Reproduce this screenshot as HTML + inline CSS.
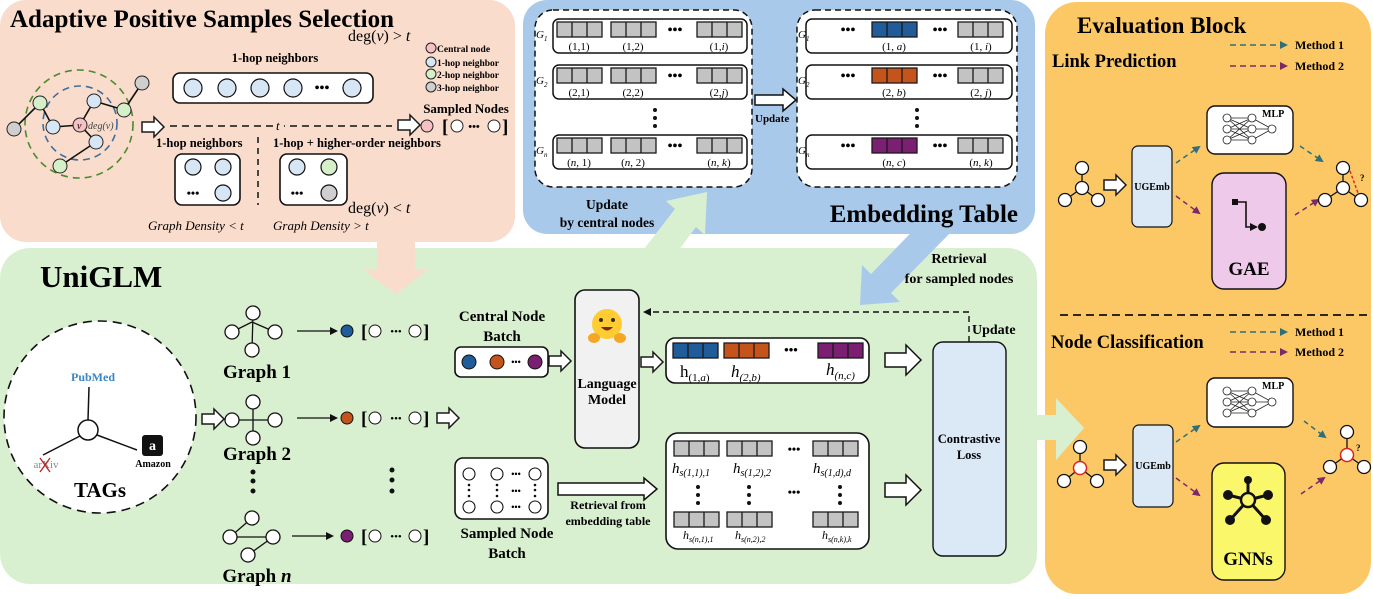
<!DOCTYPE html>
<html><head><meta charset="utf-8"><style>
html,body{margin:0;padding:0;background:#fff;}
svg{display:block;}
text{font-family:"Liberation Serif",serif;}
.b{font-weight:bold;}
.i{font-style:italic;}
</style></head><body>
<svg width="1373" height="599" viewBox="0 0 1373 599" xmlns="http://www.w3.org/2000/svg">
<defs>
<g id="cg"><rect x="0" y="0" width="45" height="15" fill="#c3c3c3" stroke="#1a1a1a" stroke-width="1.3"/><line x1="15" y1="0" x2="15" y2="15" stroke="#1a1a1a" stroke-width="1.3"/><line x1="30" y1="0" x2="30" y2="15" stroke="#1a1a1a" stroke-width="1.3"/></g>
<g id="cb"><rect x="0" y="0" width="45" height="15" fill="#1f5c99" stroke="#1a1a1a" stroke-width="1.3"/><line x1="15" y1="0" x2="15" y2="15" stroke="#1a1a1a" stroke-width="1.3"/><line x1="30" y1="0" x2="30" y2="15" stroke="#1a1a1a" stroke-width="1.3"/></g>
<g id="co"><rect x="0" y="0" width="45" height="15" fill="#c5541c" stroke="#1a1a1a" stroke-width="1.3"/><line x1="15" y1="0" x2="15" y2="15" stroke="#1a1a1a" stroke-width="1.3"/><line x1="30" y1="0" x2="30" y2="15" stroke="#1a1a1a" stroke-width="1.3"/></g>
<g id="cp"><rect x="0" y="0" width="45" height="15" fill="#7b1f72" stroke="#1a1a1a" stroke-width="1.3"/><line x1="15" y1="0" x2="15" y2="15" stroke="#1a1a1a" stroke-width="1.3"/><line x1="30" y1="0" x2="30" y2="15" stroke="#1a1a1a" stroke-width="1.3"/></g>
<g id="ha"><polygon points="0,-5 12,-5 12,-10 22,0 12,10 12,5 0,5" fill="#fff" stroke="#1a1a1a" stroke-width="1.5"/></g>
<g id="mlp" stroke="#222" stroke-width="0.8" fill="#fff">
<line x1="0" y1="0" x2="25" y2="0"/><line x1="0" y1="0" x2="25" y2="11"/><line x1="0" y1="0" x2="25" y2="22"/>
<line x1="0" y1="11" x2="25" y2="0"/><line x1="0" y1="11" x2="25" y2="11"/><line x1="0" y1="11" x2="25" y2="22"/>
<line x1="0" y1="22" x2="25" y2="0"/><line x1="0" y1="22" x2="25" y2="11"/><line x1="0" y1="22" x2="25" y2="22"/>
<line x1="25" y1="0" x2="45" y2="11"/><line x1="25" y1="11" x2="45" y2="11"/><line x1="25" y1="22" x2="45" y2="11"/>
<circle cx="0" cy="0" r="4"/><circle cx="0" cy="11" r="4"/><circle cx="0" cy="22" r="4"/>
<circle cx="25" cy="0" r="4"/><circle cx="25" cy="11" r="4"/><circle cx="25" cy="22" r="4"/>
<circle cx="45" cy="11" r="4"/></g>
<marker id="mt" markerWidth="8" markerHeight="8" refX="6" refY="4" orient="auto" markerUnits="userSpaceOnUse"><path d="M0,0 L8,4 L0,8 z" fill="#2f6f7a"/></marker>
<marker id="mp" markerWidth="8" markerHeight="8" refX="6" refY="4" orient="auto" markerUnits="userSpaceOnUse"><path d="M0,0 L8,4 L0,8 z" fill="#7a2a6a"/></marker>
<marker id="mk" markerWidth="8" markerHeight="8" refX="6" refY="4" orient="auto" markerUnits="userSpaceOnUse"><path d="M0,0 L8,4 L0,8 z" fill="#111"/></marker>
</defs>

<rect x="0" y="248" width="1037" height="336" rx="30" fill="#d9f0d0"/>
<rect x="0" y="0" width="515" height="242" rx="26" fill="#f9dccb"/>
<rect x="523" y="0" width="512" height="234" rx="24" fill="#a9c9ea"/>
<rect x="1045" y="2" width="326" height="592" rx="32" fill="#fcc866"/>

<polygon points="377,236 415,236 415,270 428,270 396,294 363,270 377,270" fill="#f9dccb"/>
<polygon points="644,249 666,267 696,227 705,235 707,192 666,201 675,209" fill="#d9f0d0"/>
<polygon points="935,208 871,274 862,265 860,305 900,302 891,293 955,228" fill="#a9c9ea"/>
<polygon points="1030,415 1056,415 1056,398 1084,428 1056,460 1056,440 1030,440" fill="#d9f0d0"/>

<!-- Pink panel -->
<text x="10" y="27" class="b" font-size="25">Adaptive Positive Samples Selection</text>
<text x="348" y="41" font-size="16">deg(<tspan class="i">v</tspan>) &gt; <tspan class="i">t</tspan></text>
<g font-size="9.5" class="b">
<circle cx="431" cy="48" r="5" fill="#f7c1c4" stroke="#222"/><text x="437" y="52">Central node</text>
<circle cx="431" cy="62" r="5" fill="#d6e6f5" stroke="#222"/><text x="437" y="66">1-hop neighbor</text>
<circle cx="431" cy="74" r="5" fill="#d5efc9" stroke="#222"/><text x="437" y="78">2-hop neighbor</text>
<circle cx="431" cy="87" r="5" fill="#cfcfcf" stroke="#222"/><text x="437" y="91">3-hop neighbor</text>
</g>
<circle cx="79" cy="124" r="54" fill="none" stroke="#4c8a2e" stroke-width="1.6" stroke-dasharray="7,5"/>
<circle cx="80" cy="123" r="37" fill="none" stroke="#3d6f9e" stroke-width="1.6" stroke-dasharray="7,5"/>
<g stroke="#111" stroke-width="1.6">
<line x1="14" y1="129" x2="40" y2="103"/><line x1="40" y1="103" x2="53" y2="127"/><line x1="53" y1="127" x2="80" y2="125"/>
<line x1="80" y1="125" x2="94" y2="101"/><line x1="94" y1="101" x2="124" y2="110"/><line x1="124" y1="110" x2="142" y2="83"/>
<line x1="80" y1="125" x2="96" y2="142"/><line x1="96" y1="142" x2="60" y2="166"/></g>
<g stroke="#222" stroke-width="1">
<circle cx="14" cy="129" r="7" fill="#cfcfcf"/><circle cx="142" cy="83" r="7" fill="#cfcfcf"/>
<circle cx="40" cy="103" r="7" fill="#d5efc9"/><circle cx="124" cy="110" r="7" fill="#d5efc9"/><circle cx="60" cy="166" r="7" fill="#d5efc9"/>
<circle cx="53" cy="127" r="7" fill="#d6e6f5"/><circle cx="94" cy="101" r="7" fill="#d6e6f5"/><circle cx="96" cy="142" r="7" fill="#d6e6f5"/>
<circle cx="80" cy="125" r="7" fill="#f7c1c4"/></g>
<text x="77" y="129" class="i" font-size="10">v</text>
<text x="88" y="129" class="i" font-size="10" fill="#444">deg(v)</text>
<use href="#ha" x="142" y="127"/>
<text x="275" y="62" class="b" font-size="12.5" text-anchor="middle">1-hop neighbors</text>
<rect x="173" y="73" width="200" height="30" rx="7" fill="#fff" stroke="#111" stroke-width="1.6"/>
<g fill="#d6e6f5" stroke="#111" stroke-width="1.2">
<circle cx="193" cy="88" r="9"/><circle cx="227" cy="88" r="9"/><circle cx="260" cy="88" r="9"/><circle cx="293" cy="88" r="9"/><circle cx="352" cy="88" r="9"/></g>
<text x="322" y="92" class="b" font-size="14" text-anchor="middle">•••</text>
<line x1="170" y1="126" x2="392" y2="126" stroke="#111" stroke-width="1.5" stroke-dasharray="7,5"/>
<rect x="274" y="118" width="10" height="12" fill="#f9dccb"/>
<text x="276" y="130" class="i" font-size="13">t</text>
<use href="#ha" x="398" y="125"/>
<text x="466" y="113" class="b" font-size="13" text-anchor="middle">Sampled Nodes</text>
<circle cx="427" cy="126" r="6" fill="#f7c1c4" stroke="#222"/>
<text x="442" y="133" class="b" font-size="19">[</text>
<circle cx="457" cy="126" r="6" fill="#fff" stroke="#222"/>
<text x="474" y="130" class="b" font-size="11" text-anchor="middle">•••</text>
<circle cx="494" cy="126" r="6" fill="#fff" stroke="#222"/>
<text x="502" y="133" class="b" font-size="19">]</text>
<text x="156" y="147" class="b" font-size="12.5">1-hop neighbors</text>
<line x1="258" y1="137" x2="258" y2="205" stroke="#111" stroke-width="1.5" stroke-dasharray="6,5"/>
<text x="273" y="147" class="b" font-size="12.5">1-hop + higher-order neighbors</text>
<rect x="175" y="154" width="65" height="51" rx="7" fill="#fff" stroke="#111" stroke-width="1.6"/>
<g stroke="#111" stroke-width="1.2"><circle cx="193" cy="167" r="8" fill="#d6e6f5"/><circle cx="223" cy="167" r="8" fill="#d6e6f5"/><circle cx="223" cy="193" r="8" fill="#d6e6f5"/></g>
<text x="193" y="197" class="b" font-size="12" text-anchor="middle">•••</text>
<rect x="280" y="154" width="67" height="51" rx="7" fill="#fff" stroke="#111" stroke-width="1.6"/>
<g stroke="#111" stroke-width="1.2"><circle cx="297" cy="167" r="8" fill="#d6e6f5"/><circle cx="329" cy="167" r="8" fill="#d5efc9"/><circle cx="329" cy="193" r="8" fill="#cfcfcf"/></g>
<text x="297" y="197" class="b" font-size="12" text-anchor="middle">•••</text>
<text x="348" y="213" font-size="16">deg(<tspan class="i">v</tspan>) &lt; <tspan class="i">t</tspan></text>
<text x="148" y="230" class="i" font-size="13">Graph Density &lt; t</text>
<text x="273" y="230" class="i" font-size="13">Graph Density &gt; t</text>

<!-- Blue panel -->
<rect x="535" y="10" width="217" height="177" rx="18" fill="#fff" stroke="#111" stroke-width="1.5" stroke-dasharray="6,4"/>
<rect x="797" y="10" width="220" height="177" rx="18" fill="#fff" stroke="#111" stroke-width="1.5" stroke-dasharray="6,4"/>
<g font-size="11" class="i">
<text x="536" y="38">G<tspan font-size="7" dy="3">1</tspan></text><text x="536" y="84">G<tspan font-size="7" dy="3">2</tspan></text><text x="536" y="154">G<tspan font-size="7" dy="3">n</tspan></text>
<text x="798" y="38">G<tspan font-size="7" dy="3">1</tspan></text><text x="798" y="84">G<tspan font-size="7" dy="3">2</tspan></text><text x="798" y="154">G<tspan font-size="7" dy="3">n</tspan></text>
</g>
<g fill="none" stroke="#111" stroke-width="1.5">
<rect x="553" y="19" width="194" height="34" rx="6"/><rect x="553" y="65" width="194" height="34" rx="6"/><rect x="553" y="135" width="194" height="34" rx="6"/>
<rect x="806" y="19" width="206" height="34" rx="6"/><rect x="806" y="65" width="206" height="34" rx="6"/><rect x="806" y="135" width="206" height="34" rx="6"/>
</g>
<use href="#cg" x="557" y="22"/><use href="#cg" x="611" y="22"/><use href="#cg" x="697" y="22"/>
<use href="#cg" x="557" y="68"/><use href="#cg" x="611" y="68"/><use href="#cg" x="697" y="68"/>
<use href="#cg" x="557" y="138"/><use href="#cg" x="611" y="138"/><use href="#cg" x="697" y="138"/>
<g class="b" font-size="14" text-anchor="middle"><text x="675" y="34">•••</text><text x="675" y="80">•••</text><text x="675" y="150">•••</text>
<text x="848" y="34">•••</text><text x="848" y="80">•••</text><text x="848" y="150">•••</text>
<text x="940" y="34">•••</text><text x="940" y="80">•••</text><text x="940" y="150">•••</text></g>
<g font-size="11" text-anchor="middle">
<text x="579" y="50">(1,1)</text><text x="633" y="50">(1,2)</text><text x="719" y="50">(1,<tspan class="i">i</tspan>)</text>
<text x="579" y="96">(2,1)</text><text x="633" y="96">(2,2)</text><text x="719" y="96">(2,<tspan class="i">j</tspan>)</text>
<text x="579" y="166">(<tspan class="i">n</tspan>, 1)</text><text x="633" y="166">(<tspan class="i">n</tspan>, 2)</text><text x="719" y="166">(<tspan class="i">n</tspan>, <tspan class="i">k</tspan>)</text>
<text x="894" y="50">(1, <tspan class="i">a</tspan>)</text><text x="981" y="50">(1, <tspan class="i">i</tspan>)</text>
<text x="894" y="96">(2, <tspan class="i">b</tspan>)</text><text x="981" y="96">(2, <tspan class="i">j</tspan>)</text>
<text x="894" y="166">(<tspan class="i">n</tspan>, <tspan class="i">c</tspan>)</text><text x="981" y="166">(<tspan class="i">n</tspan>, <tspan class="i">k</tspan>)</text>
</g>
<use href="#cb" x="872" y="22"/><use href="#cg" x="958" y="22"/>
<use href="#co" x="872" y="68"/><use href="#cg" x="958" y="68"/>
<use href="#cp" x="872" y="138"/><use href="#cg" x="958" y="138"/>
<g fill="#111"><circle cx="655" cy="110" r="2"/><circle cx="655" cy="118" r="2"/><circle cx="655" cy="126" r="2"/>
<circle cx="917" cy="110" r="2"/><circle cx="917" cy="118" r="2"/><circle cx="917" cy="126" r="2"/></g>
<polygon points="755,95 783,95 783,89 796,100 783,111 783,105 755,105" fill="#fff" stroke="#111" stroke-width="1.5"/>
<text x="755" y="122" class="b" font-size="11">Update</text>
<text x="607" y="209" class="b" font-size="13.5" text-anchor="middle">Update</text>
<text x="607" y="227" class="b" font-size="13.5" text-anchor="middle">by central nodes</text>
<text x="1018" y="222" class="b" font-size="25" text-anchor="end">Embedding Table</text>

<!-- UniGLM -->
<text x="40" y="287" class="b" font-size="31">UniGLM</text>
<circle cx="100" cy="417" r="96" fill="#fff" stroke="#111" stroke-width="1.6" stroke-dasharray="9,6"/>
<g stroke="#111" stroke-width="1.5"><line x1="89" y1="387" x2="88" y2="420"/><line x1="80" y1="436" x2="43" y2="455"/><line x1="97" y1="435" x2="137" y2="450"/></g>
<circle cx="88" cy="430" r="10" fill="#fff" stroke="#111" stroke-width="1.5"/>
<text x="93" y="381" font-family="Liberation Sans" class="b" font-size="12" fill="#3b86c4" text-anchor="middle">PubMed</text>
<rect x="142" y="435" width="21" height="21" rx="3" fill="#111"/>
<text x="152.5" y="450" font-family="Liberation Sans" class="b" font-size="14" fill="#fff" text-anchor="middle">a</text>
<text x="153" y="467" class="b" font-size="10" text-anchor="middle">Amazon</text>
<text x="46" y="468" font-family="Liberation Mono" font-size="11" fill="#888" text-anchor="middle">arXiv</text>
<line x1="40" y1="458" x2="50" y2="472" stroke="#b22" stroke-width="1.3"/><line x1="50" y1="458" x2="40" y2="472" stroke="#b22" stroke-width="1.3"/>
<text x="100" y="497" class="b" font-size="21" text-anchor="middle">TAGs</text>
<use href="#ha" x="202" y="419"/>
<g stroke="#111" stroke-width="1.3" fill="#fff">
<line x1="253" y1="313" x2="252" y2="350"/><line x1="252" y1="322" x2="232" y2="332"/><line x1="252" y1="322" x2="275" y2="332"/>
<circle cx="253" cy="313" r="7"/><circle cx="232" cy="332" r="7"/><circle cx="275" cy="332" r="7"/><circle cx="252" cy="350" r="7"/>
<line x1="253" y1="402" x2="253" y2="438"/><line x1="232" y1="420" x2="275" y2="420"/>
<circle cx="253" cy="402" r="7"/><circle cx="232" cy="420" r="7"/><circle cx="275" cy="420" r="7"/><circle cx="253" cy="438" r="7"/>
<line x1="252" y1="518" x2="230" y2="537"/><line x1="230" y1="537" x2="273" y2="537"/><line x1="273" y1="537" x2="248" y2="555"/>
<circle cx="252" cy="518" r="7"/><circle cx="230" cy="537" r="7"/><circle cx="273" cy="537" r="7"/><circle cx="248" cy="555" r="7"/>
</g>
<g class="b" font-size="19" text-anchor="middle"><text x="257" y="378">Graph 1</text><text x="257" y="460">Graph 2</text><text x="257" y="582">Graph <tspan class="i">n</tspan></text></g>
<g fill="#111"><circle cx="253" cy="472" r="2.5"/><circle cx="253" cy="481" r="2.5"/><circle cx="253" cy="491" r="2.5"/>
<circle cx="392" cy="470" r="2.5"/><circle cx="392" cy="480" r="2.5"/><circle cx="392" cy="491" r="2.5"/></g>
<g stroke="#111" stroke-width="1.2" marker-end="url(#mk)">
<line x1="297" y1="331" x2="336" y2="331"/><line x1="297" y1="418" x2="336" y2="418"/><line x1="292" y1="536" x2="332" y2="536"/></g>
<circle cx="347" cy="331" r="6" fill="#1f5c99" stroke="#111"/><circle cx="347" cy="418" r="6" fill="#c5541c" stroke="#111"/><circle cx="347" cy="536" r="6" fill="#7b1f72" stroke="#111"/>
<g>
<text x="361" y="338" class="b" font-size="19">[</text><circle cx="375" cy="331" r="6" fill="#fff" stroke="#111"/><text x="396" y="335" font-size="11" text-anchor="middle">•••</text><circle cx="415" cy="331" r="6" fill="#fff" stroke="#111"/><text x="423" y="338" class="b" font-size="19">]</text>
<text x="361" y="425" class="b" font-size="19">[</text><circle cx="375" cy="418" r="6" fill="#fff" stroke="#111"/><text x="396" y="422" font-size="11" text-anchor="middle">•••</text><circle cx="415" cy="418" r="6" fill="#fff" stroke="#111"/><text x="423" y="425" class="b" font-size="19">]</text>
<text x="361" y="543" class="b" font-size="19">[</text><circle cx="375" cy="536" r="6" fill="#fff" stroke="#111"/><text x="396" y="540" font-size="11" text-anchor="middle">•••</text><circle cx="415" cy="536" r="6" fill="#fff" stroke="#111"/><text x="423" y="543" class="b" font-size="19">]</text>
</g>
<use href="#ha" x="437" y="418"/>
<text x="502" y="321" class="b" font-size="15" text-anchor="middle">Central Node</text>
<text x="502" y="341" class="b" font-size="15" text-anchor="middle">Batch</text>
<rect x="455" y="347" width="93" height="30" rx="6" fill="#fff" stroke="#111" stroke-width="1.6"/>
<circle cx="469" cy="362" r="7" fill="#1f5c99" stroke="#111"/><circle cx="497" cy="362" r="7" fill="#c5541c" stroke="#111"/><circle cx="535" cy="362" r="7" fill="#7b1f72" stroke="#111"/>
<text x="516" y="365" class="b" font-size="9" text-anchor="middle">•••</text>
<use href="#ha" x="549" y="361"/>
<rect x="575" y="290" width="64" height="158" rx="10" fill="#f1f1f1" stroke="#111" stroke-width="1.6"/>
<circle cx="607" cy="324" r="15" fill="#ffcc33"/>
<circle cx="601" cy="320" r="2" fill="#3a2a10"/><circle cx="613" cy="320" r="2" fill="#3a2a10"/>
<path d="M601,327 Q607,334 613,327 Z" fill="#7a2a10"/>
<ellipse cx="594" cy="338" rx="6" ry="5" fill="#f5a623"/><ellipse cx="620" cy="338" rx="6" ry="5" fill="#f5a623"/>
<text x="607" y="388" class="b" font-size="14" text-anchor="middle">Language</text>
<text x="607" y="404" class="b" font-size="14" text-anchor="middle">Model</text>
<use href="#ha" x="641" y="362"/>
<rect x="666" y="338" width="203" height="45" rx="9" fill="#fff" stroke="#111" stroke-width="1.6"/>
<use href="#cb" x="673" y="343"/><use href="#co" x="724" y="343"/><use href="#cp" x="818" y="343"/>
<text x="791" y="354" class="b" font-size="13" text-anchor="middle">•••</text>
<text x="680" y="377" font-size="17">h<tspan font-size="11" dy="4">(1,<tspan class="i">a</tspan>)</tspan></text>
<text x="731" y="377" font-size="17" class="i">h<tspan font-size="11" dy="4">(2,b)</tspan></text>
<text x="826" y="375" font-size="17" class="i">h<tspan font-size="11" dy="4">(n,c)</tspan></text>
<polygon points="885,353 906,353 906,345 921,360 906,375 906,367 885,367" fill="#fff" stroke="#111" stroke-width="1.5"/>
<polygon points="885,483 906,483 906,475 921,490 906,505 906,497 885,497" fill="#fff" stroke="#111" stroke-width="1.5"/>
<rect x="933" y="342" width="73" height="214" rx="10" fill="#dbe8f6" stroke="#111" stroke-width="1.4"/>
<text x="969" y="443" class="b" font-size="12.5" text-anchor="middle">Contrastive</text>
<text x="969" y="459" class="b" font-size="12.5" text-anchor="middle">Loss</text>
<path d="M969,342 L969,312 L645,312" fill="none" stroke="#111" stroke-width="1.4" stroke-dasharray="6,4" marker-end="url(#mk)"/>
<text x="972" y="334" class="b" font-size="14">Update</text>
<text x="959" y="263" class="b" font-size="14" text-anchor="middle">Retrieval</text>
<text x="959" y="283" class="b" font-size="14" text-anchor="middle">for sampled nodes</text>
<rect x="455" y="458" width="93" height="61" rx="8" fill="#fff" stroke="#111" stroke-width="1.6"/>
<g fill="#fff" stroke="#111" stroke-width="1.1">
<circle cx="469" cy="474" r="6"/><circle cx="497" cy="474" r="6"/><circle cx="535" cy="474" r="6"/>
<circle cx="469" cy="507" r="6"/><circle cx="497" cy="507" r="6"/><circle cx="535" cy="507" r="6"/></g>
<g class="b" font-size="9" text-anchor="middle"><text x="516" y="477">•••</text><text x="516" y="510">•••</text><text x="516" y="494">•••</text></g>
<g fill="#111"><circle cx="469" cy="485" r="1.3"/><circle cx="469" cy="490" r="1.3"/><circle cx="469" cy="496" r="1.3"/>
<circle cx="497" cy="485" r="1.3"/><circle cx="497" cy="490" r="1.3"/><circle cx="497" cy="496" r="1.3"/>
<circle cx="535" cy="485" r="1.3"/><circle cx="535" cy="490" r="1.3"/><circle cx="535" cy="496" r="1.3"/></g>
<text x="507" y="538" class="b" font-size="15" text-anchor="middle">Sampled Node</text>
<text x="507" y="558" class="b" font-size="15" text-anchor="middle">Batch</text>
<polygon points="558,483 644,483 644,478 657,489 644,500 644,495 558,495" fill="#fff" stroke="#111" stroke-width="1.5"/>
<text x="608" y="509" class="b" font-size="12" text-anchor="middle">Retrieval from</text>
<text x="608" y="525" class="b" font-size="12" text-anchor="middle">embedding table</text>
<rect x="666" y="433" width="203" height="116" rx="12" fill="#fff" stroke="#111" stroke-width="1.6"/>
<use href="#cg" x="674" y="441"/><use href="#cg" x="727" y="441"/><use href="#cg" x="813" y="441"/>
<use href="#cg" x="674" y="512"/><use href="#cg" x="727" y="512"/><use href="#cg" x="813" y="512"/>
<g class="b" font-size="12" text-anchor="middle"><text x="794" y="453">•••</text><text x="794" y="496">•••</text></g>
<g font-size="15" class="i">
<text x="672" y="473">h<tspan font-size="10" dy="3">s(1,1),1</tspan></text>
<text x="733" y="473">h<tspan font-size="10" dy="3">s(1,2),2</tspan></text>
<text x="813" y="473">h<tspan font-size="10" dy="3">s(1,d),d</tspan></text>
</g>
<g font-size="12" class="i">
<text x="683" y="539">h<tspan font-size="8" dy="3">s(n,1),1</tspan></text>
<text x="735" y="539">h<tspan font-size="8" dy="3">s(n,2),2</tspan></text>
<text x="822" y="539">h<tspan font-size="8" dy="3">s(n,k),k</tspan></text>
</g>
<g fill="#111"><circle cx="698" cy="487" r="2"/><circle cx="698" cy="495" r="2"/><circle cx="698" cy="503" r="2"/>
<circle cx="749" cy="487" r="2"/><circle cx="749" cy="495" r="2"/><circle cx="749" cy="503" r="2"/>
<circle cx="840" cy="487" r="2"/><circle cx="840" cy="495" r="2"/><circle cx="840" cy="503" r="2"/></g>

<!-- Evaluation block -->
<text x="1077" y="33" class="b" font-size="23">Evaluation Block</text>
<text x="1052" y="67" class="b" font-size="18.5">Link Prediction</text>
<line x1="1230" y1="45" x2="1286" y2="45" stroke="#2f6f7a" stroke-width="1.5" stroke-dasharray="6,4" marker-end="url(#mt)"/>
<line x1="1230" y1="66" x2="1286" y2="66" stroke="#7a2a6a" stroke-width="1.5" stroke-dasharray="6,4" marker-end="url(#mp)"/>
<text x="1295" y="49" class="b" font-size="12">Method 1</text>
<text x="1295" y="70" class="b" font-size="12">Method 2</text>
<rect x="1207" y="106" width="86" height="48" rx="8" fill="#fff" stroke="#111" stroke-width="1.4"/>
<use href="#mlp" x="1227" y="118"/>
<text x="1262" y="117" class="b" font-size="10">MLP</text>
<rect x="1132" y="146" width="40" height="81" rx="6" fill="#dbe8f6" stroke="#111" stroke-width="1.2"/>
<text x="1152" y="190" class="b" font-size="10" text-anchor="middle">UGEmb</text>
<g stroke="#111" stroke-width="1.3" fill="#fff">
<line x1="1082" y1="168" x2="1082" y2="188"/><line x1="1082" y1="188" x2="1065" y2="200"/><line x1="1082" y1="188" x2="1098" y2="200"/>
<circle cx="1082" cy="168" r="6.5"/><circle cx="1082" cy="188" r="6.5"/><circle cx="1065" cy="200" r="6.5"/><circle cx="1098" cy="200" r="6.5"/>
</g>
<use href="#ha" x="1104" y="185"/>
<rect x="1212" y="173" width="74" height="116" rx="12" fill="#efc9ea" stroke="#111" stroke-width="1.4"/>
<rect x="1232" y="199" width="6" height="6" fill="#111"/>
<path d="M1238,202 L1246,202 L1246,227 L1256,227" fill="none" stroke="#111" stroke-width="1.6" marker-end="url(#mk)"/>
<circle cx="1262" cy="227" r="4" fill="#111"/>
<text x="1249" y="275" class="b" font-size="19" text-anchor="middle">GAE</text>
<line x1="1176" y1="163" x2="1199" y2="147" stroke="#2f6f7a" stroke-width="1.5" stroke-dasharray="5,4" marker-end="url(#mt)"/>
<line x1="1300" y1="146" x2="1322" y2="161" stroke="#2f6f7a" stroke-width="1.5" stroke-dasharray="5,4" marker-end="url(#mt)"/>
<line x1="1176" y1="196" x2="1199" y2="213" stroke="#7a2a6a" stroke-width="1.5" stroke-dasharray="5,4" marker-end="url(#mp)"/>
<line x1="1295" y1="215" x2="1318" y2="200" stroke="#7a2a6a" stroke-width="1.5" stroke-dasharray="5,4" marker-end="url(#mp)"/>
<g stroke="#111" stroke-width="1.3" fill="#fff">
<line x1="1343" y1="168" x2="1343" y2="188"/><line x1="1343" y1="188" x2="1325" y2="200"/><line x1="1343" y1="188" x2="1361" y2="200"/>
<circle cx="1343" cy="168" r="6.5"/><circle cx="1343" cy="188" r="6.5"/><circle cx="1325" cy="200" r="6.5"/><circle cx="1361" cy="200" r="6.5"/>
</g>
<line x1="1350" y1="171" x2="1358" y2="193" stroke="#d22" stroke-width="1.4" stroke-dasharray="3,2"/>
<text x="1360" y="181" class="b" font-size="9">?</text>
<line x1="1060" y1="315" x2="1370" y2="315" stroke="#111" stroke-width="1.8" stroke-dasharray="8,5"/>
<text x="1051" y="348" class="b" font-size="18.5">Node Classification</text>
<line x1="1230" y1="332" x2="1286" y2="332" stroke="#2f6f7a" stroke-width="1.5" stroke-dasharray="6,4" marker-end="url(#mt)"/>
<line x1="1230" y1="352" x2="1286" y2="352" stroke="#7a2a6a" stroke-width="1.5" stroke-dasharray="6,4" marker-end="url(#mp)"/>
<text x="1295" y="336" class="b" font-size="12">Method 1</text>
<text x="1295" y="356" class="b" font-size="12">Method 2</text>
<rect x="1207" y="378" width="86" height="49" rx="8" fill="#fff" stroke="#111" stroke-width="1.4"/>
<use href="#mlp" x="1227" y="391"/>
<text x="1262" y="389" class="b" font-size="10">MLP</text>
<rect x="1133" y="425" width="40" height="82" rx="6" fill="#dbe8f6" stroke="#111" stroke-width="1.2"/>
<text x="1153" y="469" class="b" font-size="10" text-anchor="middle">UGEmb</text>
<g stroke="#111" stroke-width="1.3" fill="#fff">
<line x1="1080" y1="447" x2="1080" y2="468"/><line x1="1080" y1="468" x2="1064" y2="481"/><line x1="1080" y1="468" x2="1097" y2="481"/>
<circle cx="1080" cy="447" r="6.5"/><circle cx="1064" cy="481" r="6.5"/><circle cx="1097" cy="481" r="6.5"/>
<circle cx="1080" cy="468" r="6.5" stroke="#d22" stroke-width="1.5"/>
</g>
<use href="#ha" x="1104" y="465"/>
<rect x="1212" y="463" width="73" height="117" rx="12" fill="#fbf76a" stroke="#111" stroke-width="1.4"/>
<g stroke="#111" stroke-width="3" fill="#111">
<line x1="1248" y1="500" x2="1248" y2="480"/><line x1="1248" y1="500" x2="1228" y2="495"/><line x1="1248" y1="500" x2="1268" y2="495"/>
<line x1="1248" y1="500" x2="1230" y2="520"/><line x1="1248" y1="500" x2="1266" y2="520"/>
<circle cx="1248" cy="480" r="4" stroke="none"/><circle cx="1228" cy="495" r="5" stroke="none"/><circle cx="1268" cy="495" r="5" stroke="none"/>
<circle cx="1230" cy="520" r="5" stroke="none"/><circle cx="1266" cy="520" r="5" stroke="none"/>
<circle cx="1248" cy="500" r="7" fill="#fbf76a" stroke-width="2.5"/></g>
<text x="1248" y="565" class="b" font-size="19" text-anchor="middle">GNNs</text>
<line x1="1176" y1="442" x2="1199" y2="426" stroke="#2f6f7a" stroke-width="1.5" stroke-dasharray="5,4" marker-end="url(#mt)"/>
<line x1="1304" y1="421" x2="1325" y2="437" stroke="#2f6f7a" stroke-width="1.5" stroke-dasharray="5,4" marker-end="url(#mt)"/>
<line x1="1176" y1="478" x2="1199" y2="495" stroke="#7a2a6a" stroke-width="1.5" stroke-dasharray="5,4" marker-end="url(#mp)"/>
<line x1="1301" y1="494" x2="1324" y2="478" stroke="#7a2a6a" stroke-width="1.5" stroke-dasharray="5,4" marker-end="url(#mp)"/>
<g stroke="#111" stroke-width="1.3" fill="#fff">
<line x1="1347" y1="432" x2="1347" y2="455"/><line x1="1347" y1="455" x2="1330" y2="467"/><line x1="1347" y1="455" x2="1364" y2="467"/>
<circle cx="1347" cy="432" r="6.5"/><circle cx="1330" cy="467" r="6.5"/><circle cx="1364" cy="467" r="6.5"/>
<circle cx="1347" cy="455" r="6.5" stroke="#d22" stroke-width="1.5"/>
</g>
<text x="1356" y="451" class="b" font-size="9">?</text>
</svg>
</body></html>
